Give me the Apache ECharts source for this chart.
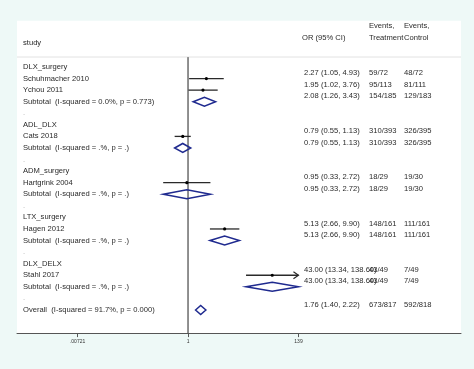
<!DOCTYPE html>
<html>
<head>
<meta charset="utf-8">
<script src="https://cdn.jsdelivr.net/npm/echarts@6/dist/echarts.min.js"></script>
<style>
html, body { margin: 0; padding: 0; background: #eef9f7; }
#chart { width: 474px; height: 369px; }
</style>
</head>
<body>
<div id="chart"></div>
<script>
// left-hand labels, one per row (row 0 = DLX_surgery)
const rowLabels = [
  'DLX_surgery', 'Schuhmacher 2010', 'Ychou 2011', 'Subtotal  (I-squared = 0.0%, p = 0.773)', '.',
  'ADL_DLX', 'Cats 2018', 'Subtotal  (I-squared = .%, p = .)', '.',
  'ADM_surgery', 'Hartgrink 2004', 'Subtotal  (I-squared = .%, p = .)', '.',
  'LTX_surgery', 'Hagen 2012', 'Subtotal  (I-squared = .%, p = .)', '.',
  'DLX_DELX', 'Stahl 2017', 'Subtotal  (I-squared = .%, p = .)', '.',
  'Overall  (I-squared = 91.7%, p = 0.000)'
];

// individual studies
const studyRows = [1, 2, 6, 10, 14, 18];
const studyOR = [2.27, 1.95, 0.79, 0.95, 5.13, 43.00];
const studyLo = [1.05, 1.02, 0.55, 0.33, 2.66, 13.34];
const studyHi = [4.93, 3.76, 1.13, 2.72, 9.90, 138.60];

// pooled estimates (subtotals + overall)
const poolRows = [3, 7, 11, 15, 19, 21];
const poolOR = [2.08, 0.79, 0.95, 5.13, 43.00, 1.76];
const poolLo = [1.26, 0.55, 0.33, 2.66, 13.34, 1.40];
const poolHi = [3.43, 1.13, 2.72, 9.90, 138.60, 2.22];

// right-hand text columns
const textRows = [1, 2, 3, 6, 7, 10, 11, 14, 15, 18, 19, 21];
const orText = ['2.27 (1.05, 4.93)', '1.95 (1.02, 3.76)', '2.08 (1.26, 3.43)',
  '0.79 (0.55, 1.13)', '0.79 (0.55, 1.13)', '0.95 (0.33, 2.72)', '0.95 (0.33, 2.72)',
  '5.13 (2.66, 9.90)', '5.13 (2.66, 9.90)', '43.00 (13.34, 138.60)', '43.00 (13.34, 138.60)',
  '1.76 (1.40, 2.22)'];
const treatText = ['59/72', '95/113', '154/185', '310/393', '310/393', '18/29', '18/29',
  '148/161', '148/161', '43/49', '43/49', '673/817'];
const ctrlText = ['48/72', '81/111', '129/183', '326/395', '326/395', '19/30', '19/30',
  '111/161', '111/161', '7/49', '7/49', '592/818'];

const tickValues = [0.00721, 1, 139];
const tickLabels = ['.00721', '1', '139'];

const FONT = '7.6px "Liberation Sans", Arial, sans-serif';
const TXT = '#2a2a2a';
const NAVY = '#1f2a8f';
const LABEL_X = 23, OR_X = 304, TREAT_X = 369, CTRL_X = 404;

const chart = echarts.init(document.getElementById('chart'));

const ciData = studyRows.map((r, i) => [studyOR[i], studyLo[i], studyHi[i], r]);
const poolData = poolRows.map((r, i) => [poolOR[i], poolLo[i], poolHi[i], r]);
const labelData = rowLabels.map((t, i) => [1, i, t]);
const colData = textRows.map((r, i) => [1, r, orText[i], treatText[i], ctrlText[i]]);

chart.setOption({
  animation: false,
  grid: {
    left: 17, right: 13, top: 20.7, bottom: 35.9,
    show: true, backgroundColor: '#ffffff', borderWidth: 0
  },
  xAxis: {
    type: 'log',
    min: 0.000482,
    max: 197000,
    axisLine: { show: true, onZero: false, lineStyle: { color: '#555', width: 1 } },
    axisTick: { show: true, length: 4, customValues: tickValues, lineStyle: { color: '#555' } },
    axisLabel: {
      show: true, customValues: tickValues, fontSize: 5, margin: 6, color: '#333',
      formatter: (v) => {
        let best = 0;
        tickValues.forEach((t, i) => {
          if (Math.abs(Math.log(t) - Math.log(v)) < Math.abs(Math.log(tickValues[best]) - Math.log(v))) best = i;
        });
        return tickLabels[best];
      }
    },
    splitLine: { show: false }
  },
  yAxis: {
    type: 'value', inverse: true, min: -4, max: 23, show: false
  },
  graphic: [
    { type: 'line', shape: { x1: 17, y1: 57, x2: 461, y2: 57 }, style: { stroke: '#e2e2e2', lineWidth: 1 } },
    { type: 'text', style: { text: 'study', x: LABEL_X, y: 43, font: FONT, fill: TXT, textVerticalAlign: 'middle' } },
    { type: 'text', style: { text: 'OR (95% CI)', x: 302, y: 38, font: FONT, fill: TXT, textVerticalAlign: 'middle' } },
    { type: 'text', style: { text: 'Events,', x: TREAT_X, y: 26, font: FONT, fill: TXT, textVerticalAlign: 'middle' } },
    { type: 'text', style: { text: 'Treatment', x: TREAT_X, y: 38, font: FONT, fill: TXT, textVerticalAlign: 'middle' } },
    { type: 'text', style: { text: 'Events,', x: CTRL_X, y: 26, font: FONT, fill: TXT, textVerticalAlign: 'middle' } },
    { type: 'text', style: { text: 'Control', x: CTRL_X, y: 38, font: FONT, fill: TXT, textVerticalAlign: 'middle' } }
  ],
  series: [
    {
      // null line at OR = 1
      type: 'custom',
      data: [[1]],
      renderItem: (params, api) => {
        const top = api.coord([1, -0.85]);
        const bot = api.coord([1, 23]);
        return { type: 'line', shape: { x1: top[0], y1: top[1], x2: bot[0], y2: bot[1] },
          style: { stroke: '#222', lineWidth: 1 } };
      }
    },
    {
      type: 'custom',
      data: ciData,
      renderItem: (params, api) => {
        const r = api.value(3);
        const c = api.coord([api.value(0), r]);
        const l = api.coord([api.value(1), r]);
        const h = api.coord([api.value(2), r]);
        const children = [
          { type: 'line', shape: { x1: l[0], y1: c[1], x2: h[0], y2: c[1] }, style: { stroke: '#2a2a2a', lineWidth: 1.3 } },
          { type: 'circle', shape: { cx: c[0], cy: c[1], r: 1.6 }, style: { fill: '#000' } }
        ];
        if (api.value(2) >= tickValues[2] * 0.99) {
          children.push({ type: 'polyline', shape: { points: [[h[0] - 5, c[1] - 3.5], [h[0], c[1]], [h[0] - 5, c[1] + 3.5]] },
            style: { stroke: '#2a2a2a', lineWidth: 1.2, fill: null } });
        }
        return { type: 'group', children };
      }
    },
    {
      type: 'custom',
      data: poolData,
      renderItem: (params, api) => {
        const r = api.value(3);
        const c = api.coord([api.value(0), r]);
        const l = api.coord([api.value(1), r]);
        const h = api.coord([api.value(2), r]);
        return { type: 'polygon',
          shape: { points: [[l[0], c[1]], [c[0], c[1] - 4.5], [h[0], c[1]], [c[0], c[1] + 4.5]] },
          style: { stroke: NAVY, lineWidth: 1.5, fill: 'rgba(0,0,0,0)' } };
      }
    },
    {
      type: 'custom',
      data: labelData,
      renderItem: (params, api) => {
        const y = api.coord([1, api.value(1)])[1];
        const t = labelData[params.dataIndex][2];
        return { type: 'text', style: { text: t, x: LABEL_X, y,
          font: FONT, fill: t === '.' ? '#aaa' : TXT, textVerticalAlign: 'middle' } };
      }
    },
    {
      type: 'custom',
      data: colData,
      renderItem: (params, api) => {
        const d = colData[params.dataIndex];
        const y = api.coord([1, d[1]])[1] - 5.5;
        const mk = (text, x) => ({ type: 'text', style: { text, x, y, font: FONT, fill: TXT, textVerticalAlign: 'middle' } });
        return { type: 'group', children: [mk(d[2], OR_X), mk(d[3], TREAT_X), mk(d[4], CTRL_X)] };
      }
    }
  ]
});
</script>
</body>
</html>
